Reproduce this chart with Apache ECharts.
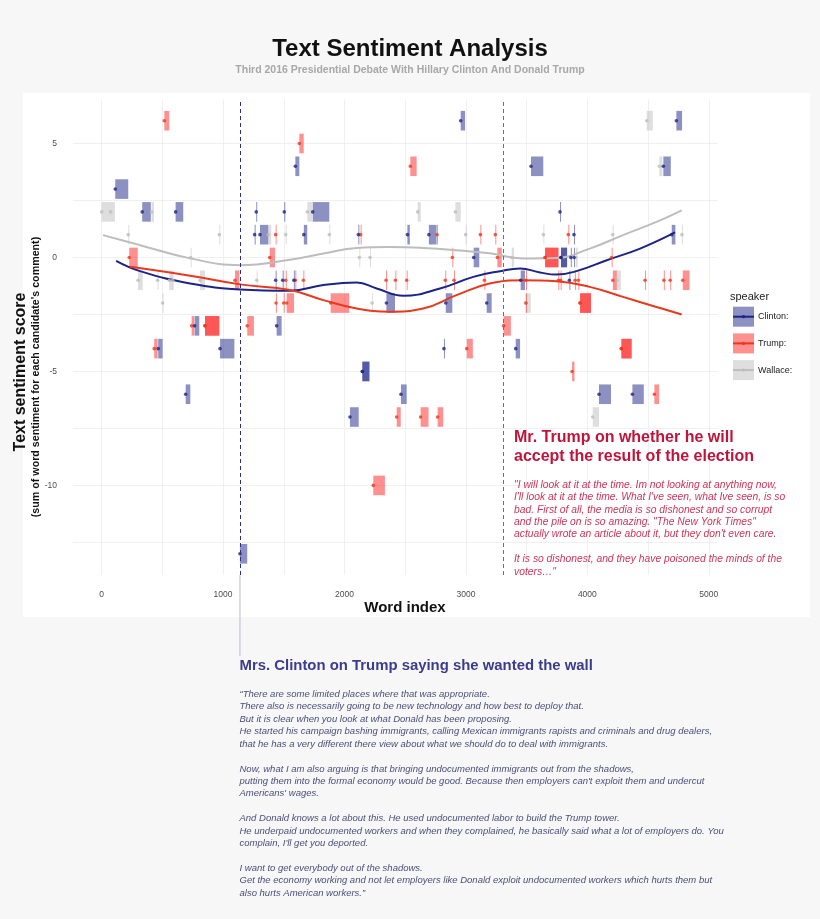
<!DOCTYPE html>
<html><head><meta charset="utf-8">
<script src="https://cdn.jsdelivr.net/npm/echarts@6/dist/echarts.min.js"></script>
<style>html,body{margin:0;padding:0;background:#f7f7f7}#c{width:820px;height:919px}</style>
</head><body><div id="c"></div>
<script>
// ---- axis ticks ----
const xTickLabels = [0, 1000, 2000, 3000, 4000, 5000];
const xGridValues = [0, 500, 1000, 1500, 2000, 2500, 3000, 3500, 4000, 4500, 5000];
const yTickLabels = [-10, -5, 0, 5];
const yGridValues = [-12.5, -10, -7.5, -5, -2.5, 0, 2.5, 5];

// ---- comments: [start word index, length in words, sentiment score] ----
const clintonComments = [
  [2957,36,6],[4733,47,6],
  [1595,33,4],[3536,101,4],[4626,61,4],
  [112,107,3],
  [334,71,2],[609,63,2],[1273,8,2],[1504,8,2],[1738,137,2],[3775,8,2],
  [1260,8,1],[1304,68,1],[1665,28,1],[2114,8,1],[2518,20,1],[2695,63,1],[3890,8,1],[4695,30,1],
  [3064,46,0],[3783,50,0],[3783,50,0],[3864,8,0],[3890,8,0],
  [1433,8,-1],[1491,8,-1],[1583,8,-1],[3451,35,-1],[3852,8,-1],
  [2345,71,-2],[2834,54,-2],[3171,41,-2],
  [766,38,-3],[1441,41,-3],
  [466,36,-4],[975,118,-4],[2819,8,-4],[3410,36,-4],
  [2147,58,-5],[2147,58,-5],
  [692,38,-6],[2465,47,-6],[4096,99,-6],[4371,94,-6],
  [2045,72,-7],
  [1139,60,-13]
];
const trumpComments = [
  [516,40,6],
  [1628,36,5],
  [2542,52,4],
  [1433,8,1],[2133,8,1],[2762,8,1],[3119,8,1],[3242,8,1],[3843,8,1],
  [227,70,0],[1384,44,0],[2888,8,0],[3259,36,0],[3652,110,0],[3652,110,0],[4200,8,0],
  [1098,36,-1],[1516,8,-1],[1595,8,-1],[1661,8,-1],[2342,8,-1],[2419,8,-1],[2512,8,-1],[2830,8,-1],
  [2902,8,-1],[3152,8,-1],[3495,8,-1],[3761,8,-1],[3780,8,-1],[3899,8,-1],[3926,8,-1],[4210,33,-1],
  [4475,8,-1],[4630,8,-1],[4682,8,-1],[4786,55,-1],
  [1436,8,-2],[1499,8,-2],[1524,60,-2],[1886,153,-2],[3495,8,-2],[3940,90,-2],[3940,90,-2],
  [741,22,-3],[851,118,-3],[851,118,-3],[1199,55,-3],[3310,60,-3],
  [433,28,-4],[3007,50,-4],[4280,85,-4],[4280,85,-4],
  [3874,20,-5],
  [4552,39,-6],
  [2430,33,-7],[2627,65,-7],[2767,46,-7],
  [2237,96,-10]
];
const wallaceComments = [
  [4489,50,6],
  [4593,25,4],
  [0,75,2],[74,35,2],[411,20,2],[1694,38,2],[2603,25,2],[2913,44,2],
  [219,8,1],[969,8,1],[1372,25,1],[1516,8,1],[1875,8,1],[2998,8,1],[3638,8,1],[4209,8,1],[4779,8,1],
  [733,8,0],[2122,8,0],[2210,8,0],[3377,20,0],[3905,15,0],
  [300,38,-1],[461,8,-1],[557,30,-1],[585,8,-1],[810,41,-1],[1277,8,-1],[4243,33,-1],
  [502,8,-2],[2227,8,-2],[3490,44,-2],
  [4044,52,-7]
];

// ---- smoothed trends: [word index, score] ----
const clintonSmooth = [[119,-0.15],[316,-0.6],[729,-1.14],[1139,-1.4],[1551,-1.46],[1826,-1.21],[2100,-1.1],[2265,-1.36],[2486,-1.68],[2787,-1.36],[3061,-0.85],[3281,-0.6],[3446,-0.48],[3611,-0.66],[3746,-0.75],[3910,-0.6],[4160,-0.12],[4434,0.39],[4722,1.1]];
const trumpSmooth = [[234,-0.41],[729,-0.8],[1139,-1.18],[1551,-1.43],[1826,-1.87],[2100,-2.24],[2375,-2.38],[2647,-2.24],[2922,-1.65],[3195,-1.14],[3469,-1.0],[3746,-1.04],[4020,-1.29],[4294,-1.73],[4569,-2.17],[4777,-2.5]];
const wallaceSmooth = [[11,0.98],[316,0.54],[729,-0.04],[1139,-0.34],[1551,-0.1],[1826,0.17],[2100,0.42],[2375,0.46],[2647,0.42],[2922,0.32],[3195,0.18],[3469,-0.04],[3746,-0.02],[4020,0.39],[4294,0.98],[4569,1.56],[4777,2.07]];

// ---- highlighted quotes: word index where they start ----
const clintonQuoteAt = 1139;
const trumpQuoteAt = 3308;

const speakers = ['Clinton:', 'Trump:', 'Wallace:'];
const COL = {
  clinton: {line:'#1c2485', fill:'rgba(28,36,133,0.5)'},
  trump:   {line:'#e8391e', fill:'rgba(255,22,22,0.48)'},
  wallace: {line:'#bdbdbd', fill:'rgba(190,190,190,0.5)'}
};
const FONT = '"Liberation Sans", Arial, Helvetica, sans-serif';
const HALF = 0.43;

function rectSeries(name, data, fill) {
  return {
    type:'custom', name, data, z:2,
    encode:{x:[0,1], y:2},
    renderItem(params, api) {
      const s = api.value(0), l = api.value(1), v = api.value(2);
      const p1 = api.coord([s, v + HALF]);
      const p2 = api.coord([s + l, v - HALF]);
      return {type:'rect', shape:{x:p1[0], y:p1[1], width:Math.max(p2[0]-p1[0], 1), height:p2[1]-p1[1]}, style:{fill}};
    }
  };
}
function dotSeries(name, data, color) {
  return {type:'scatter', name, data:data.map(d => [d[0], d[2]]), symbolSize:3.6, z:4,
    itemStyle:{color}, silent:true};
}
function smoothSeries(name, data, color) {
  return {type:'line', name, data, smooth:0.45, showSymbol:false, z:3,
    lineStyle:{color, width:2}, silent:true};
}

const chart = echarts.init(document.getElementById('c'), null, {renderer:'canvas'});
const grid = {left:73, right:102, top:99.5, bottom:344};

const option = {
  backgroundColor:'#f7f7f7',
  animation:false,
  grid,
  xAxis:{type:'value', min:-236, max:5076,
    axisLine:{show:false}, axisTick:{show:false, customValues:xGridValues},
    axisLabel:{customValues:xTickLabels, formatter:v => String(v), color:'#4d4d4d', fontSize:8.5, fontFamily:FONT, margin:15},
    splitLine:{show:true, lineStyle:{color:'#ececec', width:0.8}}},
  yAxis:{type:'value', min:-13.93, max:6.93,
    axisLine:{show:false}, axisTick:{show:false, customValues:yGridValues},
    axisLabel:{customValues:yTickLabels, formatter:v => String(v), color:'#4d4d4d', fontSize:8.5, fontFamily:FONT, margin:16},
    splitLine:{show:true, lineStyle:{color:'#ececec', width:0.8}}},
  series:[
    rectSeries('Wallace:', wallaceComments, COL.wallace.fill),
    rectSeries('Trump:', trumpComments, COL.trump.fill),
    rectSeries('Clinton:', clintonComments, COL.clinton.fill),
    smoothSeries('Wallace trend', wallaceSmooth, COL.wallace.line),
    smoothSeries('Clinton trend', clintonSmooth, COL.clinton.line),
    smoothSeries('Trump trend', trumpSmooth, COL.trump.line),
    dotSeries('Wallace dots', wallaceComments, COL.wallace.line),
    dotSeries('Trump dots', trumpComments, COL.trump.line),
    dotSeries('Clinton dots', clintonComments, COL.clinton.line),
    {type:'line', name:'quotes', data:[], z:5,
      markLine:{silent:true, symbol:'none', label:{show:false},
        data:[
          {xAxis:clintonQuoteAt, lineStyle:{color:'#2b2f8a', type:[4,3], width:1}},
          {xAxis:trumpQuoteAt, lineStyle:{color:'#d9453b', type:[4,3], width:1}}
        ]}}
  ]
};
chart.setOption(option);

// ---- decorations ----
const pBottom = chart.convertToPixel({gridIndex:0}, [clintonQuoteAt, -13.93]);
const trumpQuote = [
  '"I will look at it at the time. Im not looking at anything now,',
  "I'll look at it at the time. What I've seen, what Ive seen, is so",
  'bad. First of all, the media is so dishonest and so corrupt',
  'and the pile on is so amazing. "The New York Times"',
  "actually wrote an article about it, but they don't even care.",
  '',
  'It is so dishonest, and they have poisoned the minds of the',
  'voters…"'
].join('\n');
const clintonQuote = [
  '“There are some limited places where that was appropriate.',
  'There also is necessarily going to be new technology and how best to deploy that.',
  'But it is clear when you look at what Donald has been proposing.',
  'He started his campaign bashing immigrants, calling Mexican immigrants rapists and criminals and drug dealers,',
  'that he has a very different there view about what we should do to deal with immigrants.',
  '',
  'Now, what I am also arguing is that bringing undocumented immigrants out from the shadows,',
  "putting them into the formal economy would be good. Because then employers can't exploit them and undercut",
  "Americans' wages.",
  '',
  'And Donald knows a lot about this. He used undocumented labor to build the Trump tower.',
  'He underpaid undocumented workers and when they complained, he basically said what a lot of employers do. You',
  "complain, I'll get you deported.",
  '',
  'I want to get everybody out of the shadows.',
  'Get the economy working and not let employers like Donald exploit undocumented workers which hurts them but',
  'also hurts American workers.”'
].join('\n');

const legendItems = [
  {label:speakers[0], c:COL.clinton},
  {label:speakers[1], c:COL.trump},
  {label:speakers[2], c:COL.wallace}
];
const g = [
  {type:'rect', z:-10, shape:{x:23, y:93, width:787, height:524}, style:{fill:'#ffffff'}},
  {type:'text', x:410, y:49.5, style:{text:'Text Sentiment Analysis', font:'bold 24px '+FONT, fill:'#111', textAlign:'center', textVerticalAlign:'middle'}},
  {type:'text', x:410, y:70.5, style:{text:'Third 2016 Presidential Debate With Hillary Clinton And Donald Trump', font:'bold 10.5px '+FONT, fill:'#a8a8a8', textAlign:'center', textVerticalAlign:'middle'}},
  {type:'text', x:21, y:372, rotation:Math.PI/2, style:{text:'Text sentiment score', font:'bold 16px '+FONT, fill:'#111', textAlign:'center', textVerticalAlign:'middle'}},
  {type:'text', x:36, y:377, rotation:Math.PI/2, style:{text:"(sum of word sentiment for each candidate's comment)", font:'bold 10.7px '+FONT, fill:'#111', textAlign:'center', textVerticalAlign:'middle'}},
  {type:'text', x:405, y:608, style:{text:'Word index', font:'bold 15px '+FONT, fill:'#111', textAlign:'center', textVerticalAlign:'middle'}},
  {type:'text', x:730, y:297, style:{text:'speaker', font:'11px '+FONT, fill:'#222', textAlign:'left', textVerticalAlign:'middle'}},
  {type:'line', z:5, shape:{x1:pBottom[0], y1:pBottom[1], x2:pBottom[0], y2:656}, style:{stroke:'#b9b9d6', lineWidth:1}},
  {type:'text', x:514, y:428.75, style:{text:'Mr. Trump on whether he will\naccept the result of the election', font:'bold 16px '+FONT, fill:'#c0143c', lineHeight:18.5, textAlign:'left', textVerticalAlign:'top'}},
  {type:'text', x:514, y:478.8, style:{text:trumpQuote, font:'italic 10.3px '+FONT, fill:'#cf3558', lineHeight:12.4, textAlign:'left', textVerticalAlign:'top'}},
  {type:'text', x:239.5, y:666, style:{text:'Mrs. Clinton on Trump saying she wanted the wall', font:'bold 14.9px '+FONT, fill:'#3c3c8c', textAlign:'left', textVerticalAlign:'middle'}},
  {type:'text', x:239.5, y:688.1, style:{text:clintonQuote, font:'italic 9.5px '+FONT, fill:'#4b4f7a', lineHeight:12.43, textAlign:'left', textVerticalAlign:'top'}}
];
legendItems.forEach((it, i) => {
  const y0 = 306.7 + i * 26.7;
  g.push({type:'rect', shape:{x:733, y:y0, width:21, height:20}, style:{fill:it.c.fill}});
  g.push({type:'line', shape:{x1:733, y1:y0+10, x2:754, y2:y0+10}, style:{stroke:it.c.line, lineWidth:2}});
  g.push({type:'circle', shape:{cx:743.5, cy:y0+10, r:1.6}, style:{fill:it.c.line}});
  g.push({type:'text', x:758, y:y0+10, style:{text:it.label, font:'9px '+FONT, fill:'#222', textAlign:'left', textVerticalAlign:'middle'}});
});
chart.setOption({graphic:g});
</script>
</body></html>
